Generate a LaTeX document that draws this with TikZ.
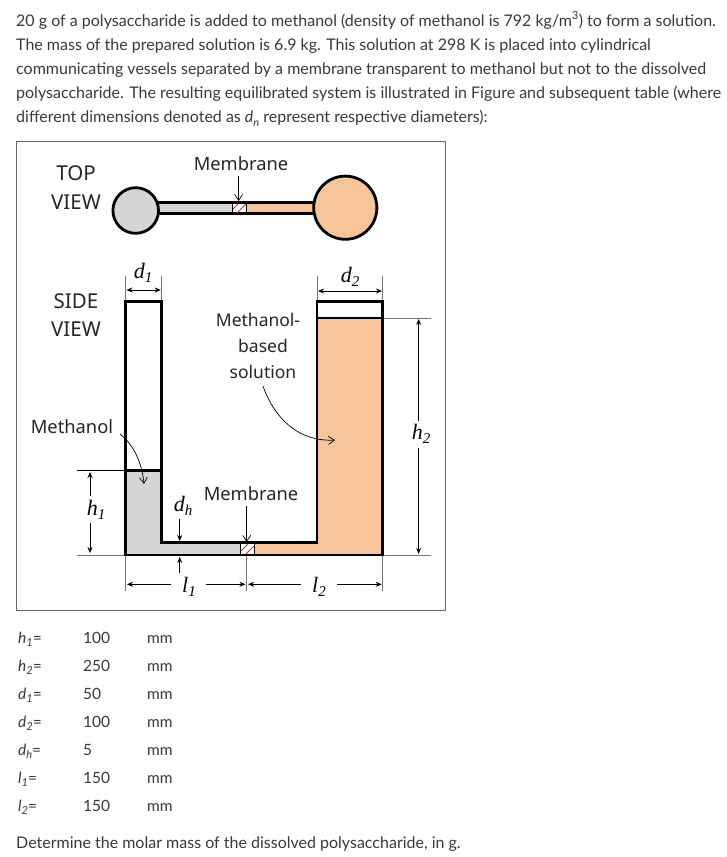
\documentclass[tikz,border=0pt]{standalone}
\usepackage{fontspec}
\setmainfont{Lato}
\newfontfamily\diagfont{Noto Sans}
\newfontfamily\symfont{Liberation Serif}
\usetikzlibrary{arrows.meta}
\definecolor{txt}{HTML}{3A3A3A}
\definecolor{grayfill}{HTML}{D6D6D6}
\definecolor{orangefill}{HTML}{F8C499}
\definecolor{hatchred}{HTML}{FF1A1A}
\newcommand{\lowsub}[1]{\raisebox{-0.25em}{\fontsize{11}{12}\selectfont #1}}
\newcommand{\dimlab}[2]{{\symfont\itshape\fontsize{22}{24}\selectfont #1\raisebox{-0.2em}{\fontsize{15}{16}\selectfont #2}}}
\tikzset{
  para/.style={anchor=base west,inner sep=0pt,text=txt,font=\fontsize{16}{18}\selectfont},
  cell/.style={anchor=base west,inner sep=0pt,text=txt,font=\fontsize{15.5}{18}\selectfont},
  lab/.style={inner sep=0pt,text=black!85,font=\diagfont\fontsize{18.3}{20}\selectfont},
  biglab/.style={lab,font=\diagfont\fontsize{20.5}{22}\selectfont},
  sollab/.style={lab,font=\diagfont\fontsize{17.5}{20}\selectfont},
  wall/.style={draw=black,line width=2.8pt},
  ext/.style={draw=black!55,line width=0.9pt},
  dimarrow/.style={draw=black,line width=0.7pt,-{Stealth[length=6pt,width=5pt]}},
  dimboth/.style={draw=black,line width=0.7pt,{Stealth[length=6pt,width=5pt]}-{Stealth[length=6pt,width=5pt]}},
  callout/.style={draw=black,line width=0.7pt,-{Straight Barb[length=6pt,width=8pt]}},
  hatchline/.style={color=hatchred,line width=1pt},
}
\begin{document}
\begin{tikzpicture}[x=1pt,y=-1pt]
\useasboundingbox (0,0) rectangle (727,857);
\fill[white] (0,0) rectangle (727,857);
% paragraph
\node[para] (p1) at (16,26) {20 g of a polysaccharide is added to methanol (density of methanol is 792 kg/m\textsuperscript{3}) to form a solution.};
\node[para] (p2) at (16,50) {The mass of the prepared solution is 6.9 kg. This solution at 298 K is placed into cylindrical};
\node[para] (p3) at (16,74) {communicating vessels separated by a membrane transparent to methanol but not to the dissolved};
\node[para] (p4) at (16,98) {polysaccharide. The resulting equilibrated system is illustrated in Figure and subsequent table (where};
\node[para] (p5) at (16,122) {different dimensions denoted as \textit{d}\lowsub{\textit{n}} represent respective diameters):};
% frame
\draw[draw=black!60,line width=1pt] (16.5,141.5) rectangle (445,610);
% top view
\fill[grayfill] (150,202) rectangle (232,214);
\fill[orangefill] (246,202) rectangle (325,214);
\draw[wall] (150,202.5) -- (325,202.5) (150,213.5) -- (325,213.5);
\draw[wall,fill=grayfill] (135.7,210.5) circle (22.8);
\draw[wall,fill=orangefill] (345.3,207.7) circle (31.6);
\fill[white] (232,204) rectangle (246,212);
\begin{scope}
  \clip (232,204) rectangle (246,212);
  \draw[hatchline] (230,212) -- (240,202) (236,214) -- (248,202);
\end{scope}
\draw[black,line width=0.6pt] (232,204) -- (232,212) (246,204) -- (246,212);
\node[lab] (memtop) at (241,164) {Membrane};
\coordinate (mt) at (238.6,201);
\draw[callout] (238.6,176) -- (mt);
\node[biglab] (topa) at (76,173) {TOP};
\node[biglab] (topb) at (76,202.5) {VIEW};
\node[biglab] (sidea) at (76,301) {SIDE};
\node[biglab] (sideb) at (76,329.5) {VIEW};
% side view fills
\fill[grayfill] (125.7,470.7) -- (161.5,470.7) -- (161.5,542.7) -- (240,542.7) -- (240,555) -- (125.7,555) -- cycle;
\fill[orangefill] (254.3,542.7) -- (317,542.7) -- (317,318) -- (382.8,318) -- (382.8,555) -- (254.3,555) -- cycle;
% extension lines
\draw[ext] (125.7,276) -- (125.7,300) (161.5,276) -- (161.5,300);
\draw[ext] (317,276) -- (317,300) (382.8,276) -- (382.8,300);
\draw[ext] (382.8,318) -- (431,318);
\draw[ext] (77,555) -- (431,555);
\draw[draw=black,line width=0.7pt] (77,470.7) -- (125.7,470.7);
\draw[ext] (125.7,555) -- (125.7,591) (246.7,555) -- (246.7,591) (382.8,555) -- (382.8,591);
% walls
\draw[wall,line join=miter] (161.5,301.7) -- (125.7,301.7) -- (125.7,555) -- (382.8,555) -- (382.8,301.7) -- (317,301.7) -- (317,542.7) -- (161.5,542.7) -- cycle;
\draw[wall] (125.7,470.7) -- (161.5,470.7);
\draw[wall] (317,318) -- (382.8,318);
% membrane side
\fill[white] (240,544.2) rectangle (254.3,553.6);
\begin{scope}
  \clip (240,544.2) rectangle (254.3,553.6);
  \draw[hatchline] (238,554) -- (248,544) (244,556) -- (256,544);
\end{scope}
\draw[black,line width=0.6pt] (240,544.2) -- (240,553.6) (254.3,544.2) -- (254.3,553.6);
% labels
\node[lab] (mem2) at (251,494) {Membrane};
\draw[callout] (246.7,506) -- (246.7,542);
\node[sollab] (sola) at (258,320) {Methanol-};
\node[sollab] (solb) at (263,346) {based};
\node[sollab] (solc) at (263,372) {solution};
\draw[callout] (263,386) .. controls (275,420) and (300,442) .. (335,440);
\node[lab] (meth) at (72,427) {Methanol};
\draw[callout] (120,434) .. controls (134,445) and (142,463) .. (144,484);
% dimensions
\node[inner sep=0pt] (d1) at (143,273) {\dimlab{d}{1}};
\draw[dimboth] (126.5,290) -- (160.7,290);
\node[inner sep=0pt] (d2) at (350,277) {\dimlab{d}{2}};
\draw[dimboth] (318,291) -- (382,291);
\node[inner sep=0pt] (h2) at (421,434) {\dimlab{h}{2}};
\draw[dimarrow] (418.7,421) -- (418.7,319);
\draw[dimarrow] (418.7,448) -- (418.7,554);
\node[inner sep=0pt] (h1) at (96,510) {\dimlab{h}{1}};
\draw[dimarrow] (90,496) -- (90,472);
\draw[dimarrow] (90,523) -- (90,553);
\node[inner sep=0pt] (dh) at (183,506) {\dimlab{d}{h}};
\draw[dimarrow] (179.7,519) -- (179.7,541);
\draw[dimarrow] (179.7,573) -- (179.7,557);
\node[inner sep=0pt] (l1) at (189,587) {\dimlab{l}{1}};
\node[inner sep=0pt] (l2) at (319,587) {\dimlab{l}{2}};
\draw[dimarrow] (171,584.3) -- (127,584.3);
\draw[dimarrow] (206,584.3) -- (245.5,584.3);
\draw[dimarrow] (301,584.3) -- (248,584.3);
\draw[dimarrow] (337,584.3) -- (381.7,584.3);
% table
\foreach \nm/\sb/\val/\yy in {h/1/100/643,h/2/250/671,d/1/50/699,d/2/100/727,d/h/5/755,l/1/150/783,l/2/150/811}{
  \node[cell] (n\nm\sb) at (18,\yy) {\textit{\nm}\lowsub{\textit{\sb}}=};
  \node[cell] (v\nm\sb) at (83,\yy) {\val};
  \node[cell] (u\nm\sb) at (147,\yy) {mm};
}
\node[para] (q) at (16,848) {Determine the molar mass of the dissolved polysaccharide, in g.};
\end{tikzpicture}
\end{document}
